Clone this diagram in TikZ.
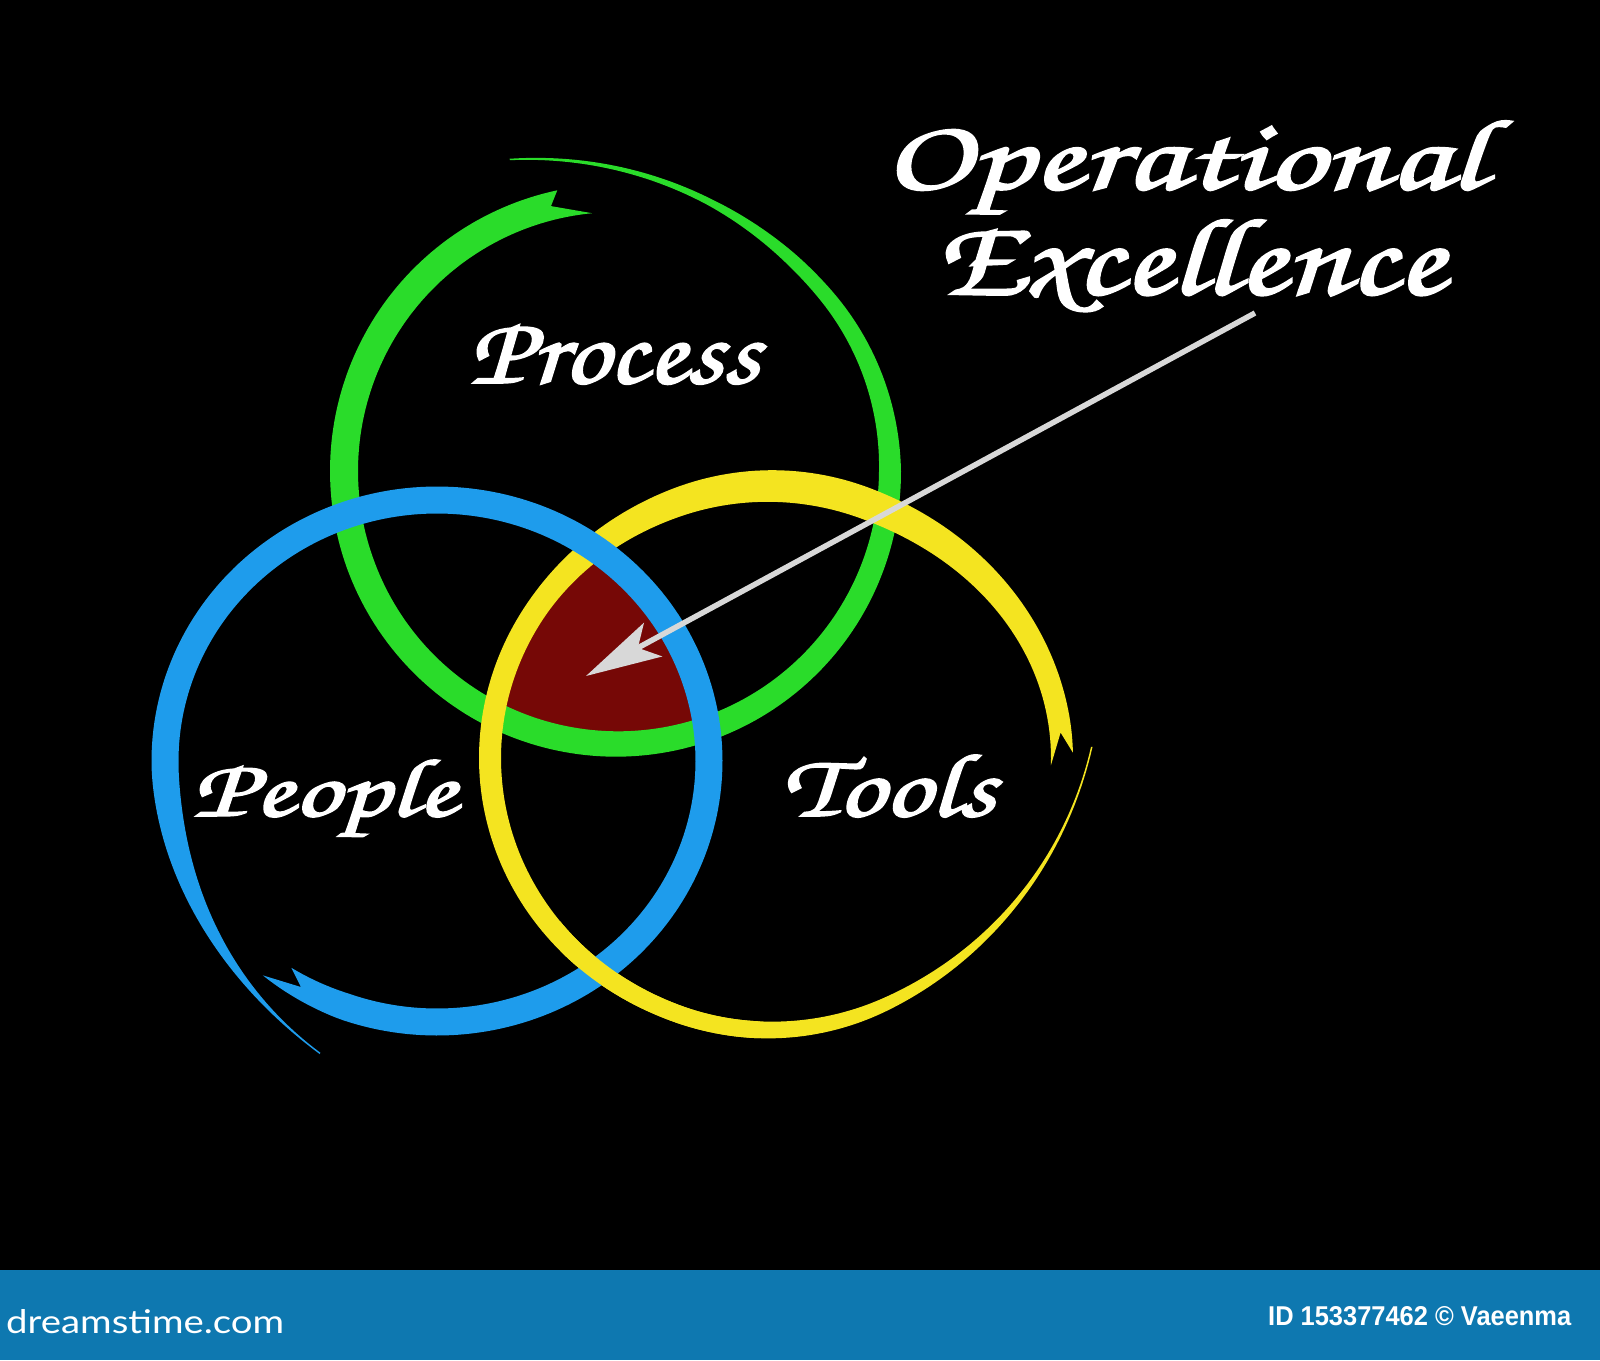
\documentclass[tikz,border=0pt]{standalone}
\usepackage{fontspec}
\usepackage{graphicx}
\usetikzlibrary{arrows.meta}
\newfontfamily\scriptf[FakeBold=2]{texgyrechorus-mediumitalic.otf}
\newfontfamily\barfont{Lato}
\newfontfamily\idfont{Liberation Sans}
\definecolor{ringgreen}{RGB}{42,220,42}
\definecolor{ringblue}{RGB}{30,156,236}
\definecolor{ringyellow}{RGB}{244,228,32}
\definecolor{coredred}{RGB}{118,8,6}
\definecolor{arrowgray}{RGB}{216,216,216}
\definecolor{barblue}{RGB}{14,120,176}
% #1 colour, #2 cx, #3 cy, #4 function prefix, #5 start angle (outer prong),
% #6 end angle (tail), #7 inner prong angle, #8 notch angle
\newcommand{\brushring}[8]{%
  \fill[#1] plot[domain=#5:#6, samples=260, variable=\x]
      ({#2+(#4rx(\x)+#4w(\x)/2)*cos(\x)}, {#3-(#4ry(\x)+#4w(\x)/2)*sin(\x)})
    -- plot[domain=#6:#7, samples=260, variable=\x]
      ({#2+(#4rx(\x)-#4w(\x)/2)*cos(\x)}, {#3-(#4ry(\x)-#4w(\x)/2)*sin(\x)})
    -- ({#2+#4rx(#8)*cos(#8)}, {#3-#4ry(#8)*sin(#8)}) -- cycle;}
\begin{document}
\begin{tikzpicture}[x=1pt,y=-1pt,
  declare function={
    cl(\x)=min(1,max(0,\x));
    ss(\x)=cl(\x)*cl(\x)*(3-2*cl(\x));
    bump(\x)=max(0,1-\x*\x)*max(0,1-\x*\x);
    grx(\x)=273+57*cl((\x-400)/69.3)*cl((\x-400)/69.3);
    gry(\x)=grx(\x);
    gw(\x)=28-6*cl((\x-200)/160)-9*cl((\x-360)/50)-6*cl((\x-410)/21)-5.5*cl((\x-431)/38);
    bs(\x)=1+0.2*cl((\x-545)/64)*cl((\x-545)/64);
    brx(\x)=272*bs(\x);
    bry(\x)=261*bs(\x);
    bw(\x)=27-5*cl((250-\x)/18)-25.5*ss((\x-540)/69);
    yr(\x)=272+20*(1-ss(\x/70))+8*bump((\x-180)/70)+50*cl((\x-295)/67)*cl((\x-295)/67);
    yrx(\x)=yr(\x);
    yry(\x)=yr(\x);
    yw(\x)=22+10*bump((\x-80)/70)-5*ss((\x-180)/90)-15.5*ss((\x-262)/100);
  },
  vennlabel/.style={anchor=base west, inner sep=0pt, text=white},
  barlabel/.style={anchor=base west, inner sep=0pt, text=white},
  excarrow/.style={draw=arrowgray, line width=5.5pt,
    -{Stealth[length=76pt,width=38pt,inset=17pt]}}
]
% background
\fill[black] (0,0) rectangle (1600,1360);
\useasboundingbox (0,0) rectangle (1600,1360);

% common core of the three rings
\begin{scope}
  \clip (617,471) circle [radius=273];
  \clip (437,761) ellipse [x radius=272, y radius=261];
  \fill[coredred] (770,758) circle [radius=279];
\end{scope}

% brush rings
\brushring{ringgreen}{617}{471}{g}{102}{469}{95.5}{104}
\brushring{ringyellow}{770}{758}{y}{1}{362}{-1.5}{5}
\brushring{ringblue}{437}{761}{b}{232}{609}{236}{240}
% yellow passes over blue at the bottom crossing
\begin{scope}
  \clip (560,870) rectangle (760,1060);
  \brushring{ringyellow}{770}{758}{y}{1}{362}{-1.5}{5}
\end{scope}

% labels
\node[vennlabel] (process) at (469,383) {\resizebox{290pt}{58pt}{\scriptf Process}};
\node[vennlabel] (people) at (192,816) {\resizebox{264pt}{56pt}{\scriptf People}};
\node[vennlabel] (tools) at (782,816) {\resizebox{213pt}{61pt}{\scriptf Tools}};
\node[vennlabel] (operational) at (883,189) {\resizebox{600pt}{68pt}{\scriptf Operational}};
\node[vennlabel] (excellence) at (934,294) {\resizebox{510pt}{74pt}{\scriptf Excellence}};

% arrow to the core
\coordinate (arrowstart) at (1255,313);
\coordinate (core) at (586,676);
\draw[excarrow] (arrowstart) -- (core);

% bottom bar
\fill[barblue] (0,1270) rectangle (1600,1360);
\node[barlabel] (brand) at (6,1333) {\resizebox{278pt}{24pt}{\barfont dreamstime.com}};
\node[barlabel] (imgid) at (1268,1325) {\resizebox{303pt}{19pt}{\idfont\bfseries ID 153377462 © Vaeenma}};
\end{tikzpicture}
\end{document}
